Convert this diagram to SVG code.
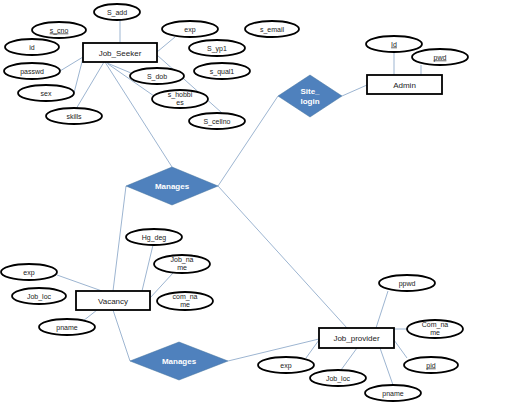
<svg xmlns="http://www.w3.org/2000/svg" width="520" height="405" viewBox="0 0 520 405">
<style>
.a ellipse{fill:#fff;stroke:#000;stroke-width:1.8}
.e rect{fill:#fff;stroke:#000;stroke-width:1.8}
.r polygon{fill:#4f81bd;stroke:#41719c;stroke-width:0.5}
text{font-family:"Liberation Sans",Arial,sans-serif;font-size:7px;fill:#222;text-anchor:middle}
.e text{font-size:8px}
.r text{fill:#fff;font-size:8px;font-weight:bold}
.u{text-decoration:underline}
#conn line{stroke:#9db5d1;stroke-width:1}
</style>
<rect width="520" height="405" fill="#fff"/>
<g id="conn">
<line x1="120" y1="20" x2="120" y2="43"/>
<line x1="157" y1="52" x2="175" y2="37"/>
<line x1="83" y1="57" x2="60" y2="71"/>
<line x1="83" y1="58" x2="74" y2="93"/>
<line x1="104" y1="62" x2="76" y2="109"/>
<line x1="107" y1="63" x2="131" y2="73"/>
<line x1="108" y1="64" x2="154" y2="96"/>
<line x1="157" y1="55" x2="222" y2="113"/>
<line x1="105" y1="62" x2="172" y2="167"/>
<line x1="126" y1="186" x2="113" y2="291"/>
<line x1="218" y1="186" x2="278" y2="96"/>
<line x1="342" y1="96" x2="367" y2="85"/>
<line x1="394" y1="52" x2="394" y2="75"/>
<line x1="421" y1="65" x2="421" y2="75"/>
<line x1="218" y1="186" x2="347" y2="328"/>
<line x1="57" y1="275" x2="102" y2="291"/>
<line x1="153" y1="245" x2="142" y2="291"/>
<line x1="173" y1="273" x2="150" y2="298"/>
<line x1="97" y1="310" x2="83" y2="321"/>
<line x1="113" y1="310" x2="130" y2="361"/>
<line x1="228" y1="361" x2="319" y2="339"/>
<line x1="376" y1="328" x2="388" y2="291"/>
<line x1="394" y1="329" x2="407" y2="329"/>
<line x1="394" y1="340" x2="407" y2="358"/>
<line x1="380" y1="348" x2="393" y2="385"/>
<line x1="357" y1="348" x2="341" y2="370"/>
<line x1="319" y1="340" x2="306" y2="358"/>
</g>
<g id="Job_Seeker" class="e"><rect x="83" y="43" width="74" height="19"/><text x="120" y="55.5">Job_Seeker</text></g>
<g id="Admin" class="e"><rect x="367" y="75" width="75" height="19"/><text x="404.5" y="87.5">Admin</text></g>
<g id="Vacancy" class="e"><rect x="76" y="291" width="74" height="19"/><text x="113" y="303.5">Vacancy</text></g>
<g id="Job_provider" class="e"><rect x="319" y="328" width="75" height="20"/><text x="356.5" y="341">Job_provider</text></g>
<g id="Site_login" class="r"><polygon points="310,75 342,96 310,117 278,96"/><text x="310" y="94">Site_</text><text x="310" y="104">login</text></g>
<g id="Manages1" class="r"><polygon points="172,167 218,186 172,205 126,186"/><text x="172" y="189">Manages</text></g>
<g id="Manages2" class="r"><polygon points="179,342 228,361 179,380 130,361"/><text x="179" y="364">Manages</text></g>
<g id="S_add" class="a"><ellipse cx="117" cy="12" rx="23" ry="8"/><text x="117" y="14.5">S_add</text></g>
<g id="s_cno" class="a"><ellipse cx="59" cy="30" rx="27" ry="8"/><text x="59" y="32.5" class="u">s_cno</text></g>
<g id="id" class="a"><ellipse cx="32" cy="47" rx="27" ry="8"/><text x="32" y="49.5">id</text></g>
<g id="passwd" class="a"><ellipse cx="32" cy="71" rx="28" ry="8"/><text x="32" y="73.5">passwd</text></g>
<g id="sex" class="a"><ellipse cx="46" cy="93" rx="28" ry="8"/><text x="46" y="95.5">sex</text></g>
<g id="skills" class="a"><ellipse cx="74" cy="116" rx="28" ry="8"/><text x="74" y="118.5">skills</text></g>
<g id="exp_js" class="a"><ellipse cx="190" cy="29" rx="28" ry="8"/><text x="190" y="31.5">exp</text></g>
<g id="S_yp1" class="a"><ellipse cx="217" cy="48" rx="28" ry="8"/><text x="217" y="50.5">S_yp1</text></g>
<g id="s_qual1" class="a"><ellipse cx="222" cy="71" rx="28" ry="8"/><text x="222" y="73.5">s_qual1</text></g>
<g id="S_dob" class="a"><ellipse cx="157" cy="76" rx="27" ry="8"/><text x="157" y="78.5">S_dob</text></g>
<g id="s_hobbies" class="a"><ellipse cx="180" cy="99" rx="28" ry="9"/><text x="180" y="97">s_hobbi</text><text x="180" y="105">es</text></g>
<g id="S_cellno" class="a"><ellipse cx="217" cy="121" rx="28" ry="8"/><text x="217" y="123.5">S_cellno</text></g>
<g id="s_email" class="a"><ellipse cx="272" cy="29" rx="27" ry="8"/><text x="272" y="31.5">s_email</text></g>
<g id="Id" class="a"><ellipse cx="394" cy="44" rx="28" ry="8"/><text x="394" y="46.5" class="u">Id</text></g>
<g id="pwd" class="a"><ellipse cx="440" cy="57" rx="28" ry="8"/><text x="440" y="59.5" class="u">pwd</text></g>
<g id="Hg_deg" class="a"><ellipse cx="154" cy="237" rx="28" ry="8"/><text x="154" y="239.5">Hg_deg</text></g>
<g id="Job_name" class="a"><ellipse cx="182" cy="264" rx="28" ry="9"/><text x="182" y="262">Job_na</text><text x="182" y="270">me</text></g>
<g id="exp_v" class="a"><ellipse cx="29" cy="272" rx="28" ry="8"/><text x="29" y="274.5">exp</text></g>
<g id="Job_loc_v" class="a"><ellipse cx="39" cy="296" rx="27" ry="8"/><text x="39" y="298.5">Job_loc</text></g>
<g id="com_name_v" class="a"><ellipse cx="185" cy="301" rx="28" ry="9"/><text x="185" y="299">com_na</text><text x="185" y="307">me</text></g>
<g id="pname_v" class="a"><ellipse cx="67" cy="327" rx="28" ry="8"/><text x="67" y="329.5">pname</text></g>
<g id="ppwd" class="a"><ellipse cx="407" cy="283" rx="28" ry="8"/><text x="407" y="285.5">ppwd</text></g>
<g id="com_name_p" class="a"><ellipse cx="435" cy="329" rx="28" ry="9"/><text x="435" y="327">Com_na</text><text x="435" y="335">me</text></g>
<g id="pid" class="a"><ellipse cx="431" cy="365" rx="27" ry="8"/><text x="431" y="367.5" class="u">pid</text></g>
<g id="pname_p" class="a"><ellipse cx="393" cy="393" rx="28" ry="8"/><text x="393" y="395.5">pname</text></g>
<g id="Job_loc_p" class="a"><ellipse cx="338" cy="378" rx="28" ry="8"/><text x="338" y="380.5">Job_loc</text></g>
<g id="exp_p" class="a"><ellipse cx="286" cy="365" rx="28" ry="8"/><text x="286" y="367.5">exp</text></g>
</svg>
